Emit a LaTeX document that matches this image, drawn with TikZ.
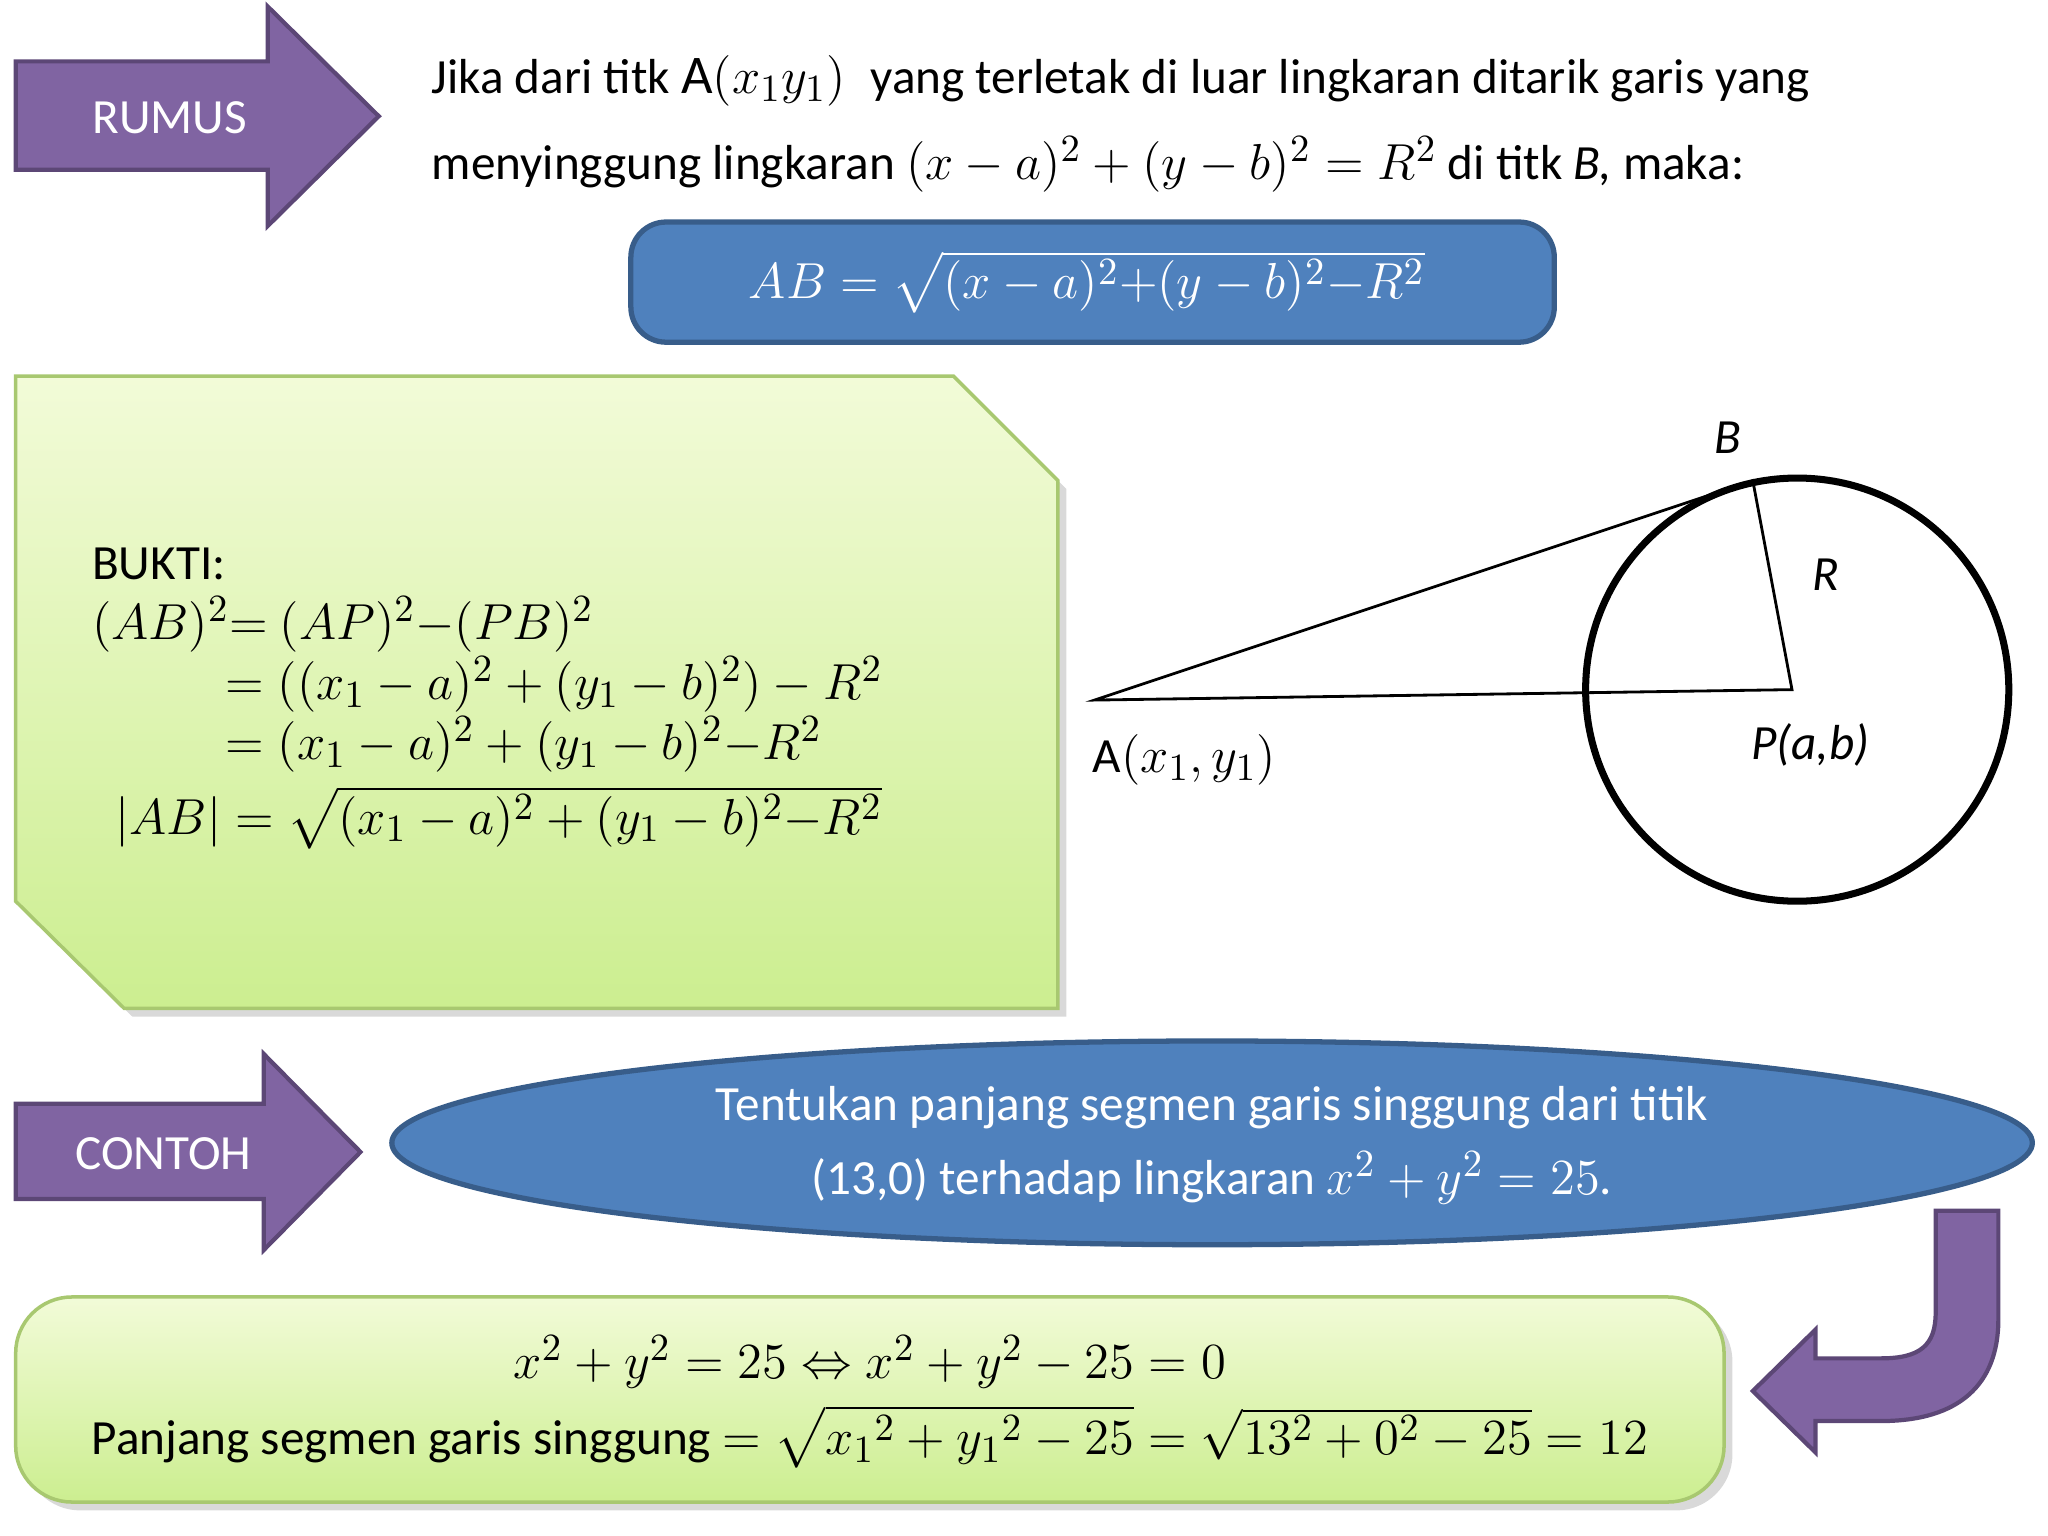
\documentclass[tikz,border=0pt]{standalone}
\usepackage{fontspec}
\setmainfont{Carlito}
\usepackage{amsmath}
\usetikzlibrary{shapes.geometric,shadows}
\definecolor{purp}{HTML}{8064A2}
\definecolor{purpd}{HTML}{5C4776}
\definecolor{blu}{HTML}{4F81BD}
\definecolor{blud}{HTML}{385D8A}
\definecolor{gtop}{HTML}{F2FBD8}
\definecolor{gbot}{HTML}{CCEE90}
\definecolor{gbd}{HTML}{A8C870}
\tikzset{
 parrow/.style={fill=purp,draw=purpd,line width=1.2pt},
 bluebox/.style={fill=blu,draw=blud,line width=1.5pt},
 greenbox/.style={top color=gtop,bottom color=gbot,draw=gbd,line width=1pt,drop shadow={opacity=0.3}},
 txt/.style={font=\fontsize{14}{17}\selectfont,inner sep=0pt},
 mtxt/.style={font=\fontsize{15.5}{18}\selectfont,inner sep=0pt},
 wtxt/.style={txt,text=white},
}
\begin{document}
\begin{tikzpicture}[x=0.013061cm,y=-0.013061cm]
\useasboundingbox (0,0) rectangle (1568,1176);
% RUMUS arrow
\path[parrow] (12,47) -- (205,47) -- (205,5) -- (290,89) -- (205,173) -- (205,130) -- (12,130) -- cycle;
\node[wtxt] (rumus) at (130,90) {RUMUS};
\node[txt,anchor=west] (l1) at (330,62) {Jika dari titk {\fontsize{15.5}{18}\selectfont$\mathrm{A}(x_1y_1)$}\; yang terletak di luar lingkaran ditarik garis yang};
\node[txt,anchor=west] (l2) at (330,126) {menyinggung lingkaran {\fontsize{15.5}{18}\selectfont$(x-a)^2+(y-b)^2=R^2$} di titk \textit{B,} maka:};
\path[bluebox,rounded corners=10pt] (483,170) rectangle (1190,262);
\node[mtxt,text=white] (f) at (832,216) {$AB=\sqrt{(x-a)^2{+}(y-b)^2{-}R^2}$};
% green snipped box
\path[greenbox] (12,288) -- (730,288) -- (810,368) -- (810,772) -- (95,772) -- (12,690) -- cycle;
\node[txt,anchor=west] (bk) at (70,432) {BUKTI:};
\node[mtxt,anchor=west] (b1) at (70,478) {$(AB)^2{=}\ (AP)^2{-}(PB)^2$};
\node[mtxt,anchor=west] (b2) at (172,524) {$=((x_1-a)^2+(y_1-b)^2)-R^2$};
\node[mtxt,anchor=west] (b3) at (172,570) {$=(x_1-a)^2+(y_1-b)^2{-}R^2$};
\node[mtxt,anchor=west] (b4) at (88,626) {$|AB|=\sqrt{(x_1-a)^2+(y_1-b)^2{-}R^2}$};
% geometry
\coordinate (A) at (838,536);
\coordinate (B) at (1342,368);
\coordinate (P) at (1372,528);
\draw[line width=2pt] (1376,528) circle [radius=162];
\draw[line width=0.8pt] (A) -- (B) -- (P) -- cycle;
\node[txt] (lb) at (1323,335) {\textit{B}};
\node[txt] (lr) at (1398,440) {\textit{R}};
\node[txt] (lp) at (1386,570) {\textit{P(a,b)}};
\node[txt,anchor=west] (la) at (836,582) {A{\fontsize{15.5}{18}\selectfont$(x_1,y_1)$}};
% CONTOH arrow
\path[parrow] (12,845) -- (202,845) -- (202,807) -- (276,882) -- (202,957) -- (202,918) -- (12,918) -- cycle;
\node[wtxt] (contoh) at (125,883) {CONTOH};
\path[bluebox] (928,875) ellipse [x radius=628, y radius=78];
\node[wtxt,align=center] (q) at (928,877) {Tentukan panjang segmen garis singgung dari titik\\[4pt](13,0) terhadap lingkaran {\fontsize{15.5}{18}\selectfont$x^2+y^2=25$}.};
% bent arrow
\path[parrow] (1482,927) -- (1530,927) -- (1530,1010) .. controls (1530,1060) and (1500,1088) .. (1440,1088) -- (1390,1088) -- (1390,1112) -- (1342,1065) -- (1390,1018) -- (1390,1040) -- (1440,1040) .. controls (1470,1040) and (1482,1030) .. (1482,1005) -- cycle;
% bottom box
\path[greenbox,rounded corners=16pt] (12,993) rectangle (1320,1150);
\node[mtxt] (s1) at (666,1043) {$x^2+y^2=25\Leftrightarrow x^2+y^2-25=0$};
\node[txt] (s2) at (666,1100) {Panjang segmen garis singgung {\fontsize{15.5}{18}\selectfont$=\sqrt{{x_1}^2+{y_1}^2-25}=\sqrt{13^2+0^2-25}=12$}};
\end{tikzpicture}
\end{document}
